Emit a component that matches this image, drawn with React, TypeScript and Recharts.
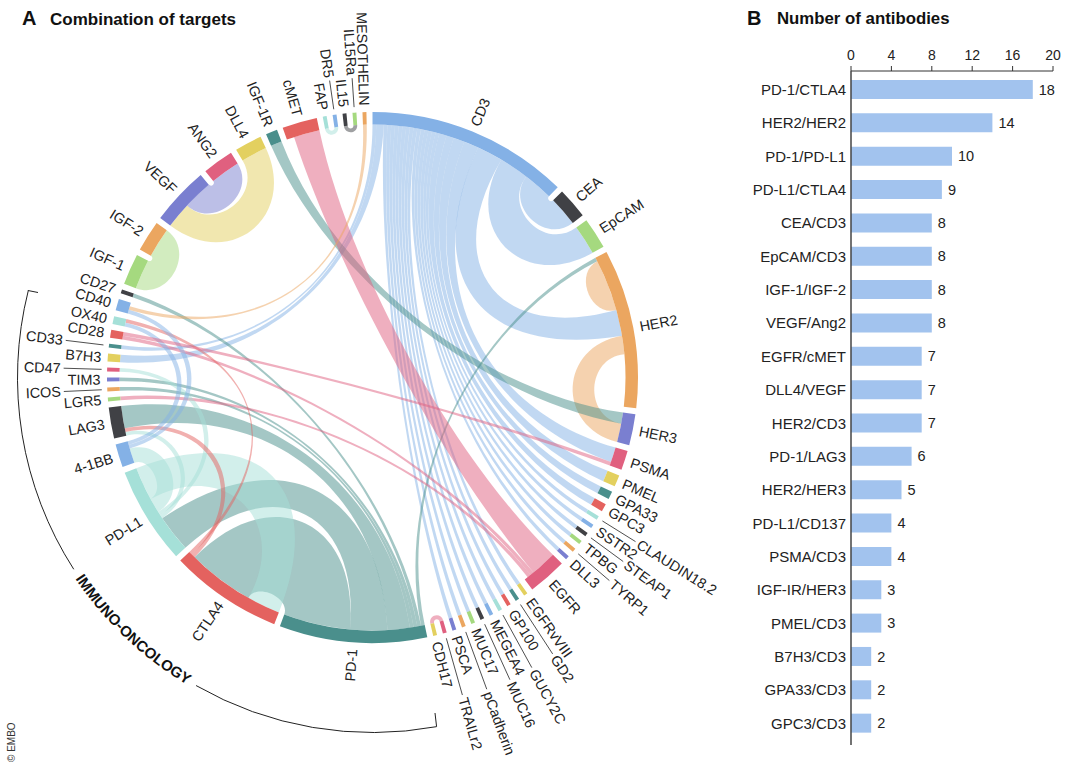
import { BarChart, Bar, XAxis, YAxis, LabelList, PieChart, Pie, Cell } from 'recharts';

// chord sectors, clockwise from 12 o'clock
const sectorNames = [
  'CD3', 'CEA', 'EpCAM', 'HER2', 'HER3', 'PSMA', 'PMEL', 'GPA33', 'GPC3', 'CLAUDIN18.2',
  'SSTR2', 'STEAP1', 'TPBG', 'TYRP1', 'DLL3', 'EGFR', 'EGFRvVIII', 'GD2', 'GP100', 'GUCY2C',
  'MEGEA4', 'MUC16', 'MUC17', 'pCadherin', 'PSCA', 'TRAILr2', 'CDH17', 'PD-1', 'CTLA4', 'PD-L1',
  '4-1BB', 'LAG3', 'LGR5', 'ICOS', 'TIM3', 'CD47', 'B7H3', 'CD33', 'CD28', 'OX40',
  'CD40', 'CD27', 'IGF-1', 'IGF-2', 'VEGF', 'ANG2', 'DLL4', 'IGF-1R', 'cMET', 'FAP',
  'DR5', 'IL15', 'IL15Ra', 'MESOTHELIN',
];
const palette = ['#84b1e6', '#404145', '#a5d97f', '#eba660', '#7a7fd0', '#e0607f', '#e3d05f', '#4a8f8c', '#e4625f', '#a5e0d8'];

// how each sector is divided, in clockwise order: [partner, antibodies]; '' leaves the arc empty
const sectorParts: Record<string, [string, number][]> = {
  CD3: [['CD33', 1], ['B7H3', 2], ['PSCA', 1], ['pCadherin', 1], ['MUC17', 1], ['MUC16', 1], ['MEGEA4', 1], ['GUCY2C', 1], ['GP100', 1], ['GD2', 1], ['EGFRvVIII', 1], ['DLL3', 1], ['TYRP1', 1], ['TPBG', 1], ['STEAP1', 1], ['SSTR2', 1], ['CLAUDIN18.2', 1], ['GPC3', 2], ['GPA33', 2], ['PMEL', 3], ['PSMA', 4], ['HER2', 7], ['EpCAM', 8], ['CEA', 8]],
  CEA: [['CD3', 8]],
  EpCAM: [['CD3', 8]],
  HER2: [['PD-1', 1], ['HER2', 7], ['HER2', 7], ['CD3', 7], ['HER3', 5], ['', 14]],
  HER3: [['IGF-1R', 3], ['HER2', 5]],
  PSMA: [['CD3', 4], ['CD28', 1]],
  PMEL: [['CD3', 3]],
  GPA33: [['CD3', 2]],
  GPC3: [['CD3', 2]],
  'CLAUDIN18.2': [['CD3', 1]],
  SSTR2: [['CD3', 1]],
  STEAP1: [['CD3', 1]],
  TPBG: [['CD3', 1]],
  TYRP1: [['CD3', 1]],
  DLL3: [['CD3', 1]],
  EGFR: [['cMET', 7], ['CD28', 1], ['LGR5', 1], ['', 1]],
  EGFRvVIII: [['CD3', 1]],
  GD2: [['CD3', 1]],
  GP100: [['CD3', 1]],
  GUCY2C: [['CD3', 1]],
  MEGEA4: [['CD3', 1]],
  MUC16: [['CD3', 1]],
  MUC17: [['CD3', 1]],
  pCadherin: [['CD3', 1]],
  PSCA: [['CD3', 1]],
  TRAILr2: [['CDH17', 1]],
  CDH17: [['TRAILr2', 1]],
  'PD-1': [['HER2', 1], ['CD27', 1], ['TIM3', 1], ['ICOS', 1], ['LAG3', 6], ['PD-L1', 10], ['CTLA4', 18]],
  CTLA4: [['PD-L1', 9], ['PD-1', 18], ['LAG3', 1], ['OX40', 1]],
  'PD-L1': [['PD-1', 10], ['LAG3', 1], ['CD47', 1], ['4-1BB', 4], ['CTLA4', 9]],
  '4-1BB': [['PD-L1', 4], ['CD40', 1], ['OX40', 1]],
  LAG3: [['PD-L1', 1], ['CTLA4', 1], ['PD-1', 6]],
  LGR5: [['EGFR', 1]],
  ICOS: [['PD-1', 1]],
  TIM3: [['PD-1', 1]],
  CD47: [['PD-L1', 1]],
  B7H3: [['CD3', 2]],
  CD33: [['CD3', 1]],
  CD28: [['EGFR', 1], ['PSMA', 1]],
  OX40: [['4-1BB', 1], ['CTLA4', 1]],
  CD40: [['4-1BB', 1], ['MESOTHELIN', 1], ['', 1]],
  CD27: [['PD-1', 1]],
  'IGF-1': [['IGF-2', 8]],
  'IGF-2': [['IGF-1', 8]],
  VEGF: [['DLL4', 7], ['ANG2', 8]],
  ANG2: [['VEGF', 8]],
  DLL4: [['VEGF', 7]],
  'IGF-1R': [['HER3', 3]],
  cMET: [['', 2], ['EGFR', 7]],
  FAP: [['DR5', 1]],
  DR5: [['FAP', 1]],
  IL15: [['IL15Ra', 1]],
  IL15Ra: [['IL15', 1]],
  MESOTHELIN: [['CD40', 1]],
};

// sector whose colour the ribbon takes, first one listed wins
const ribbonOwners = ['CD3', 'IGF-1', 'DLL4', 'VEGF', 'PD-1', 'HER2', 'IGF-1R', 'EGFR', 'PD-L1', 'CTLA4', '4-1BB', 'MESOTHELIN', 'PSMA', 'TRAILr2', 'FAP', 'IL15'];

const outerLabels: Record<string, number> = {
  DR5: 303, IL15Ra: 303, CD33: 312, CD47: 312, ICOS: 312, 'CLAUDIN18.2': 313, STEAP1: 314, TYRP1: 315,
  GD2: 333, GUCY2C: 334, MUC16: 335, pCadherin: 335, TRAILr2: 333,
};

const barCategories = [
  'PD-1/CTLA4', 'HER2/HER2', 'PD-1/PD-L1', 'PD-L1/CTLA4', 'CEA/CD3', 'EpCAM/CD3', 'IGF-1/IGF-2', 'VEGF/Ang2', 'EGFR/cMET', 'DLL4/VEGF',
  'HER2/CD3', 'PD-1/LAG3', 'HER2/HER3', 'PD-L1/CD137', 'PSMA/CD3', 'IGF-IR/HER3', 'PMEL/CD3', 'B7H3/CD3', 'GPA33/CD3', 'GPC3/CD3',
];
const barValues = [18, 14, 10, 9, 8, 8, 8, 8, 7, 7, 7, 6, 5, 4, 4, 3, 3, 2, 2, 2];
const barTicks = [0, 4, 8, 12, 16, 20];
const gapUnits = 1.54;

const FONT = '"Liberation Sans", Arial, sans-serif';
const CX = 372.5;
const CY = 377.5;
const R_OUT = 265.5;
const R_IN = 253;

const barData = barCategories.map((name, i) => ({ name, value: barValues[i] }));

const units = sectorNames.map((n) => sectorParts[n].reduce((s, p) => s + p[1], 0));
const pieData = sectorNames.flatMap((name, i) => [
  { name, value: units[i], fill: palette[i % 10] },
  { name: '', value: gapUnits, fill: 'none' },
]);

const total = pieData.reduce((s, d) => s + d.value, 0);
const degPerUnit = 360 / total;

type Piece = { sector: string; partner: string; from: number; to: number; used?: boolean };
const pieces: Piece[] = [];
let cursor = 0;
sectorNames.forEach((name) => {
  sectorParts[name].forEach(([partner, w]) => {
    pieces.push({ sector: name, partner, from: cursor * degPerUnit, to: (cursor + w) * degPerUnit });
    cursor += w;
  });
  cursor += gapUnits;
});

const polar = (r: number, deg: number) => {
  const a = (deg * Math.PI) / 180;
  return [CX + r * Math.sin(a), CY - r * Math.cos(a)];
};
const pt = (r: number, deg: number) => polar(r, deg).map((v) => v.toFixed(2)).join(' ');

// ribbon edge: leaves the ring radially, tighter when both ends are close together
const edge = (from: number, to: number) => {
  let s = Math.abs(to - from);
  if (s > 180) s = 360 - s;
  const rc = s <= 4 ? R_IN - 3 * s : Math.min(241, Math.max(110, 262 - 3 * s));
  return `C ${pt(rc, from)} ${pt(rc, to)} ${pt(R_IN, to)}`;
};

const ribbon = (a: Piece, b: Piece) =>
  `M ${pt(R_IN, a.from)} A ${R_IN} ${R_IN} 0 0 1 ${pt(R_IN, a.to)} ${edge(a.to, b.from)} ` +
  `A ${R_IN} ${R_IN} 0 0 1 ${pt(R_IN, b.to)} ${edge(b.to, a.from)} Z`;

const ribbons: { d: string; color: string }[] = [];
ribbonOwners.forEach((owner) => {
  const color = palette[sectorNames.indexOf(owner) % 10];
  pieces.filter((p) => p.sector === owner && p.partner && !p.used).forEach((p) => {
    const other = pieces.find((q) => q !== p && q.sector === p.partner && q.partner === owner && !q.used);
    if (!other) return;
    p.used = true;
    other.used = true;
    ribbons.push({ d: ribbon(p, other), color });
  });
});

function ChordLayer() {
  const arc = (r: number, from: number, to: number) => `M ${pt(r, from)} A ${r} ${r} 0 0 0 ${pt(r, to)}`;
  return (
    <g>
      {ribbons.map((r, i) => (
        <path key={i} d={r.d} fill={r.color} fillOpacity={0.5} stroke="none" />
      ))}
      <path d={`M 38 292.5 L 28 290.5 ${arc(355, 284.1, 237.3).replace(/^M [^A]+/, 'L ' + pt(355, 284.1) + ' ')}`} fill="none" stroke="#222" strokeWidth={1} />
      <path d={`${arc(355, 209.8, 169.6)} L 435 713`} fill="none" stroke="#222" strokeWidth={1} />
      <path id="immunoPath" d={arc(359, 240, 207)} fill="none" />
      <text fontFamily={FONT} fontSize={15} fontWeight={700} fill="#111" textAnchor="middle">
        <textPath href="#immunoPath" startOffset="50%">IMMUNO-ONCOLOGY</textPath>
      </text>
    </g>
  );
}

function SectorLabel(props: any) {
  const { midAngle, name } = props;
  if (!name) return <g />;
  const deg = ((90 - midAngle) % 360 + 360) % 360;
  const r = outerLabels[name] ?? 272;
  const [x, y] = polar(r, deg);
  const right = deg < 180;
  const [x1, y1] = polar(271, deg);
  const [x2, y2] = polar(r - 3, deg);
  return (
    <g>
      {outerLabels[name] && <line x1={x1} y1={y1} x2={x2} y2={y2} stroke="#222" strokeWidth={0.8} />}
      <text
        x={x}
        y={y}
        dy="0.35em"
        fontFamily={FONT}
        fontSize={14.4}
        fill="#222"
        textAnchor={right ? 'start' : 'end'}
        transform={`rotate(${right ? deg - 90 : deg - 270} ${x} ${y})`}
      >
        {name}
      </text>
    </g>
  );
}

const headStyle = { position: 'absolute', fontFamily: FONT, fontWeight: 700, color: '#111', lineHeight: 1 } as const;

export default function App() {
  return (
    <div style={{ position: 'absolute', left: 0, top: 0, width: 1080, height: 776, background: '#fff', overflow: 'hidden' }}>
      <div style={{ ...headStyle, left: 22, top: 8, fontSize: 20 }}>A</div>
      <div style={{ ...headStyle, left: 50, top: 11, fontSize: 17 }}>Combination of targets</div>
      <div style={{ ...headStyle, left: 747, top: 8, fontSize: 20 }}>B</div>
      <div style={{ ...headStyle, left: 777, top: 11, fontSize: 16.8 }}>Number of antibodies</div>

      <div style={{ position: 'absolute', left: 0, top: 0 }}>
        <PieChart width={740} height={776} margin={{ top: 0, right: 0, bottom: 0, left: 0 }}>
          <ChordLayer />
          <Pie
            data={pieData}
            dataKey="value"
            nameKey="name"
            cx={CX}
            cy={CY}
            innerRadius={R_IN}
            outerRadius={R_OUT}
            startAngle={90}
            endAngle={-270}
            paddingAngle={0}
            stroke="none"
            label={SectorLabel}
            labelLine={false}
            isAnimationActive={false}
          >
            {pieData.map((d, i) => (
              <Cell key={i} fill={d.fill} stroke="none" />
            ))}
          </Pie>
        </PieChart>
      </div>

      <div style={{ position: 'absolute', left: 740, top: 0 }}>
        <BarChart
          layout="vertical"
          width={340}
          height={776}
          data={barData}
          margin={{ top: 41, right: 27, bottom: 31, left: 0 }}
        >
          <XAxis
            type="number"
            orientation="top"
            domain={[0, 20]}
            ticks={barTicks}
            height={30}
            tickSize={5}
            tickMargin={6}
            interval={0}
            stroke="#333"
            tick={{ fill: '#222', fontSize: 14, fontFamily: FONT }}
          />
          <YAxis
            type="category"
            dataKey="name"
            width={111}
            interval={0}
            tickLine={false}
            tickSize={0}
            tickMargin={5}
            padding={{ top: 2, bottom: 5 }}
            axisLine={{ stroke: '#444', strokeWidth: 1.5 }}
            tick={{ fill: '#222', fontSize: 15, fontFamily: FONT }}
          />
          <Bar dataKey="value" fill="#a2c3ee" barSize={19} isAnimationActive={false}>
            <LabelList dataKey="value" position="right" offset={6} fill="#222" fontSize={14.5} fontFamily={FONT} />
          </Bar>
        </BarChart>
      </div>

      <div
        style={{
          position: 'absolute',
          left: 6,
          top: 725,
          width: 40,
          fontFamily: FONT,
          fontSize: 10,
          color: '#333',
          whiteSpace: 'nowrap',
          transform: 'rotate(-90deg) translateX(-37px)',
          transformOrigin: '0 0',
        }}
      >
        © EMBO
      </div>
    </div>
  );
}
